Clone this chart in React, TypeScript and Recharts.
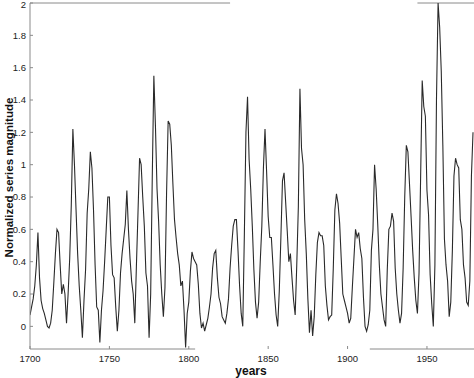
import React from "react";
import { LineChart, Line, XAxis, YAxis, ReferenceLine, Label } from "recharts";

const years: number[] = [
  1700, 1701, 1702, 1703, 1704, 1705, 1706, 1707, 1708, 1709,
  1710, 1711, 1712, 1713, 1714, 1715, 1716, 1717, 1718, 1719,
  1720, 1721, 1722, 1723, 1724, 1725, 1726, 1727, 1728, 1729,
  1730, 1731, 1732, 1733, 1734, 1735, 1736, 1737, 1738, 1739,
  1740, 1741, 1742, 1743, 1744, 1745, 1746, 1747, 1748, 1749,
  1750, 1751, 1752, 1753, 1754, 1755, 1756, 1757, 1758, 1759,
  1760, 1761, 1762, 1763, 1764, 1765, 1766, 1767, 1768, 1769,
  1770, 1771, 1772, 1773, 1774, 1775, 1776, 1777, 1778, 1779,
  1780, 1781, 1782, 1783, 1784, 1785, 1786, 1787, 1788, 1789,
  1790, 1791, 1792, 1793, 1794, 1795, 1796, 1797, 1798, 1799,
  1800, 1801, 1802, 1803, 1804, 1805, 1806, 1807, 1808, 1809,
  1810, 1811, 1812, 1813, 1814, 1815, 1816, 1817, 1818, 1819,
  1820, 1821, 1822, 1823, 1824, 1825, 1826, 1827, 1828, 1829,
  1830, 1831, 1832, 1833, 1834, 1835, 1836, 1837, 1838, 1839,
  1840, 1841, 1842, 1843, 1844, 1845, 1846, 1847, 1848, 1849,
  1850, 1851, 1852, 1853, 1854, 1855, 1856, 1857, 1858, 1859,
  1860, 1861, 1862, 1863, 1864, 1865, 1866, 1867, 1868, 1869,
  1870, 1871, 1872, 1873, 1874, 1875, 1876, 1877, 1878, 1879,
  1880, 1881, 1882, 1883, 1884, 1885, 1886, 1887, 1888, 1889,
  1890, 1891, 1892, 1893, 1894, 1895, 1896, 1897, 1898, 1899,
  1900, 1901, 1902, 1903, 1904, 1905, 1906, 1907, 1908, 1909,
  1910, 1911, 1912, 1913, 1914, 1915, 1916, 1917, 1918, 1919,
  1920, 1921, 1922, 1923, 1924, 1925, 1926, 1927, 1928, 1929,
  1930, 1931, 1932, 1933, 1934, 1935, 1936, 1937, 1938, 1939,
  1940, 1941, 1942, 1943, 1944, 1945, 1946, 1947, 1948, 1949,
  1950, 1951, 1952, 1953, 1954, 1955, 1956, 1957, 1958, 1959,
  1960, 1961, 1962, 1963, 1964, 1965, 1966, 1967, 1968, 1969,
  1970, 1971, 1972, 1973, 1974, 1975, 1976, 1977, 1978, 1979,
];

const magnitude: number[] = [
  0.07, 0.12, 0.17, 0.25, 0.38, 0.58, 0.30, 0.16, 0.11, 0.08,
  0.04, 0.0, -0.01, 0.02, 0.1, 0.27, 0.45, 0.6, 0.58, 0.38,
  0.2, 0.26, 0.2, 0.02, 0.2, 0.42, 0.75, 1.22, 1.0, 0.72,
  0.45, 0.25, 0.1, -0.07, 0.16, 0.35, 0.7, 0.85, 1.08, 0.98,
  0.72, 0.38, 0.12, 0.1, -0.1, 0.1, 0.22, 0.4, 0.6, 0.8,
  0.8, 0.5, 0.32, 0.3, 0.12, -0.03, 0.1, 0.33, 0.45, 0.54,
  0.63, 0.84, 0.6, 0.42, 0.28, 0.2, 0.02, 0.37, 0.7, 1.04,
  1.0, 0.8, 0.62, 0.33, 0.25, -0.07, 0.2, 0.92, 1.55, 1.24,
  0.85, 0.65, 0.38, 0.2, 0.06, 0.24, 0.82, 1.27, 1.25, 1.12,
  0.88, 0.66, 0.55, 0.45, 0.38, 0.25, 0.28, 0.1, -0.13, 0.08,
  0.15, 0.34, 0.46, 0.42, 0.4, 0.38, 0.26, 0.08, -0.01, 0.02,
  -0.03, 0.01, 0.05, 0.12, 0.2, 0.36, 0.45, 0.47, 0.3, 0.18,
  0.14, 0.06, 0.04, 0.02, 0.08, 0.17, 0.36, 0.5, 0.62, 0.66,
  0.66, 0.47, 0.25, 0.08, 0.0, 0.57, 1.2, 1.42, 1.03, 0.85,
  0.62, 0.35, 0.15, 0.05, 0.15, 0.4, 0.62, 0.98, 1.22, 0.96,
  0.68, 0.55, 0.55, 0.38, 0.2, 0.07, 0.0, 0.22, 0.55, 0.9,
  0.95, 0.77, 0.59, 0.4, 0.45, 0.3, 0.16, 0.07, 0.38, 0.74,
  1.47, 1.1, 1.0, 0.66, 0.45, 0.17, -0.04, 0.1, -0.06, 0.06,
  0.32, 0.52, 0.58, 0.56, 0.56, 0.5, 0.25, 0.13, 0.04, 0.06,
  0.07, 0.36, 0.72, 0.82, 0.76, 0.64, 0.42, 0.2, 0.16, 0.12,
  0.08, 0.02, 0.05, 0.24, 0.42, 0.6, 0.55, 0.58, 0.48, 0.42,
  0.18, 0.0, -0.03, 0.01, 0.1, 0.47, 0.6, 1.0, 0.85, 0.63,
  0.38, 0.2, 0.12, 0.04, 0.0, 0.35, 0.6, 0.62, 0.7, 0.65,
  0.36, 0.2, 0.1, 0.02, 0.08, 0.36, 0.8, 1.12, 1.08, 0.88,
  0.68, 0.47, 0.3, 0.16, 0.08, 0.33, 0.92, 1.52, 1.36, 1.3,
  0.84, 0.69, 0.32, 0.14, 0.0, 0.38, 1.41, 2.0, 1.85, 1.58,
  1.12, 0.54, 0.38, 0.28, 0.06, 0.15, 0.47, 0.93, 1.04, 1.0,
  0.98, 0.66, 0.6, 0.38, 0.3, 0.15, 0.13, 0.28, 0.93, 1.2,
];

const xTicks: number[] = [1700, 1750, 1800, 1850, 1900, 1950];
const yTicks: number[] = [0, 0.2, 0.4, 0.6, 0.8, 1, 1.2, 1.4, 1.6, 1.8, 2];
const xDomain: [number, number] = [1700, 1980];
const yDomain: [number, number] = [-0.14, 2];

const data = years.map((year, i) => ({ year, value: magnitude[i] }));

const FONT = "'Liberation Sans', Arial, Helvetica, sans-serif";
const AXIS = "#8a8a8a";
const TEXT = "#222";

const fmt = (v: number) => String(Number(v.toFixed(1)));

const BottomTick = (props: any) => {
  const { x, y, payload } = props;
  return (
    <g>
      <line x1={x} y1={y} x2={x} y2={y - 3} stroke={AXIS} strokeWidth={1} />
      <text x={x} y={y + 12.5} textAnchor="middle" fontSize={9.5} fontFamily={FONT} fill={TEXT}>
        {payload.value}
      </text>
    </g>
  );
};

const TopTick = (props: any) => {
  const { x, y } = props;
  return <line x1={x} y1={y} x2={x} y2={y + 3} stroke={AXIS} strokeWidth={1} />;
};

const LeftTick = (props: any) => {
  const { x, y, payload } = props;
  const ty = y < 6 ? 7.5 : y + 3.4;
  return (
    <g>
      <line x1={x} y1={y} x2={x + 3} y2={y} stroke={AXIS} strokeWidth={1} />
      <text x={x - 4} y={ty} textAnchor="end" fontSize={9.5} fontFamily={FONT} fill={TEXT}>
        {fmt(payload.value)}
      </text>
    </g>
  );
};

const RightTick = (props: any) => {
  const { x, y } = props;
  return <line x1={x} y1={y} x2={x - 3} y2={y} stroke={AXIS} strokeWidth={1} />;
};

export default function App() {
  return (
    <div style={{ position: "absolute", left: 0, top: 0, width: 474, height: 378, overflow: "hidden", background: "#fff" }}>
      <LineChart
        width={477}
        height={378}
        data={data}
        margin={{ top: 3, right: 2.4, bottom: 0, left: 0 }}
      >
        <XAxis
          dataKey="year"
          type="number"
          domain={xDomain}
          ticks={xTicks}
          allowDataOverflow
          height={29}
          axisLine={false}
          tickLine={false}
          tickSize={0}
          tickMargin={0}
          tick={<BottomTick />}
          interval={0}
        >
          <Label
            content={() => (
              <text x={251} y={374.5} textAnchor="middle" fontSize={12} fontWeight="bold" fontFamily={FONT} fill="#111">
                years
              </text>
            )}
          />
        </XAxis>
        <XAxis
          xAxisId="top"
          orientation="top"
          dataKey="year"
          type="number"
          domain={xDomain}
          ticks={xTicks}
          allowDataOverflow
          height={0}
          axisLine={false}
          tickLine={false}
          tickSize={0}
          tickMargin={0}
          tick={<TopTick />}
          interval={0}
        />
        <YAxis
          type="number"
          domain={yDomain}
          ticks={yTicks}
          allowDataOverflow
          width={30}
          axisLine={{ stroke: AXIS, strokeWidth: 1 }}
          tickLine={false}
          tickSize={0}
          tickMargin={0}
          tick={<LeftTick />}
          interval={0}
        >
          <Label
            content={() => (
              <text
                transform="translate(12.5,177.5) rotate(-90)"
                textAnchor="middle"
                fontSize={11.5}
                fontWeight="bold"
                fontFamily={FONT}
                fill="#111"
              >
                Normalized series magnitude
              </text>
            )}
          />
        </YAxis>
        <YAxis
          yAxisId="right"
          orientation="right"
          type="number"
          domain={yDomain}
          ticks={yTicks}
          allowDataOverflow
          width={0}
          axisLine={false}
          tickLine={false}
          tickSize={0}
          tickMargin={0}
          tick={<RightTick />}
          interval={0}
        />
        <ReferenceLine segment={[{ x: 1700, y: 2 }, { x: 1826, y: 2 }]} stroke={AXIS} strokeWidth={1} ifOverflow="visible" />
        <ReferenceLine segment={[{ x: 1944, y: 2 }, { x: 1980, y: 2 }]} stroke={AXIS} strokeWidth={1} ifOverflow="visible" />
        <ReferenceLine segment={[{ x: 1700, y: -0.14 }, { x: 1804, y: -0.14 }]} stroke={AXIS} strokeWidth={1} ifOverflow="visible" />
        <ReferenceLine segment={[{ x: 1914, y: -0.14 }, { x: 1980, y: -0.14 }]} stroke={AXIS} strokeWidth={1} ifOverflow="visible" />
        <Line
          type="linear"
          dataKey="value"
          stroke="#2a2a2a"
          strokeWidth={1.1}
          dot={false}
          isAnimationActive={false}
        />
      </LineChart>
    </div>
  );
}
